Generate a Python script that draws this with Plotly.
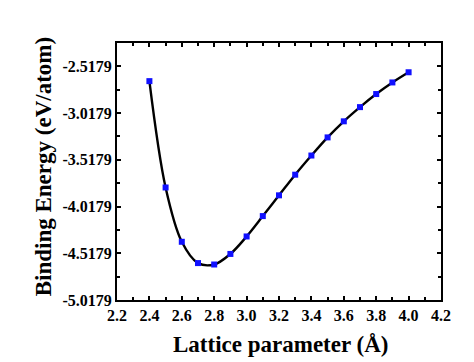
import plotly.graph_objects as go

lattice = [2.4, 2.5, 2.6, 2.7, 2.8, 2.9, 3.0, 3.1, 3.2, 3.3, 3.4, 3.5, 3.6, 3.7, 3.8, 3.9, 4.0]
energy = [-2.676, -3.814, -4.395, -4.623, -4.638, -4.525, -4.338, -4.120, -3.898,
          -3.677, -3.472, -3.278, -3.106, -2.954, -2.814, -2.690, -2.581]
y_ticks = [-5.0179, -4.5179, -4.0179, -3.5179, -3.0179, -2.5179]
y_ticklabels = ["-5.0179", "-4.5179", "-4.0179", "-3.5179", "-3.0179", "-2.5179"]
x_ticks = [2.2, 2.4, 2.6, 2.8, 3.0, 3.2, 3.4, 3.6, 3.8, 4.0, 4.2]
x_ticklabels = ["2.2", "2.4", "2.6", "2.8", "3.0", "3.2", "3.4", "3.6", "3.8", "4.0", "4.2"]
x_title = "Lattice parameter (Å)"
y_title = "Binding Energy (eV/atom)"

font_family = "Liberation Serif"

fig = go.Figure()
fig.add_trace(go.Scatter(x=lattice, y=energy, mode="lines",
                         line=dict(color="black", width=2.4, shape="spline", smoothing=1.0),
                         showlegend=False))
fig.add_trace(go.Scatter(x=lattice, y=energy, mode="markers",
                         marker=dict(symbol="square", size=6, color="#1010ff"),
                         showlegend=False))

fig.update_layout(
    width=474, height=362,
    margin=dict(l=117, r=33, t=43, b=62),
    paper_bgcolor="white", plot_bgcolor="white",
    font=dict(family=font_family, color="black"),
    xaxis=dict(range=[2.2, 4.2], tickvals=x_ticks, ticktext=x_ticklabels,
               ticks="inside", ticklen=4, tickwidth=1.5, tickcolor="black",
               minor=dict(dtick=0.1, tick0=2.2, ticks="inside", ticklen=3, tickwidth=1.5, tickcolor="black"),
               showline=True, linecolor="black", linewidth=2, mirror="allticks",
               showgrid=False, zeroline=False, automargin=False,
               tickfont=dict(size=16, family=font_family, color="black", weight=700)),
    yaxis=dict(range=[-5.0179, -2.2679], tickvals=y_ticks, ticktext=y_ticklabels,
               ticks="inside", ticklen=4, tickwidth=1.5, tickcolor="black",
               minor=dict(dtick=0.25, tick0=-5.0179, ticks="inside", ticklen=3, tickwidth=1.5, tickcolor="black"),
               showline=True, linecolor="black", linewidth=2, mirror="allticks",
               showgrid=False, zeroline=False, automargin=False,
               tickfont=dict(size=16, family=font_family, color="black", weight=700)),
    annotations=[
        dict(text="<b>%s</b>" % x_title, xref="paper", yref="paper", x=0.506, y=-0.175,
             xanchor="center", yanchor="middle", showarrow=False,
             font=dict(size=23, family=font_family, color="black")),
        dict(text="<b>%s</b>" % y_title, xref="paper", yref="paper", x=-0.228, y=0.517,
             xanchor="center", yanchor="middle", showarrow=False, textangle=-90,
             font=dict(size=23, family=font_family, color="black")),
    ],
)

fig.write_html("out.html", config={"displayModeBar": False},
               post_script="document.body.style.margin='0';document.body.style.padding='0';")
